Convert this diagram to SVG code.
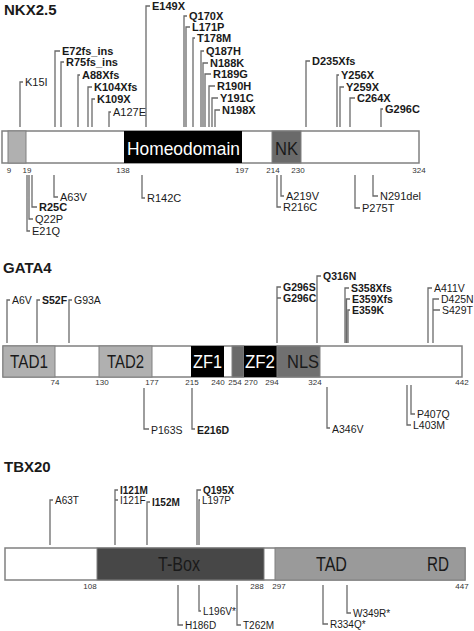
<svg xmlns="http://www.w3.org/2000/svg" width="474" height="631" viewBox="0 0 474 631">
<style>
text{font-family:"Liberation Sans",Arial,Helvetica,sans-serif;fill:#1a1a1a}
.t{font-size:15px;font-weight:bold}
.n1{font-size:11px}
.n2{font-size:10.5px}
.n3{font-size:10px}
.b{font-weight:bold}
.num{font-size:8px;text-anchor:middle;fill:#333}
.dl{font-size:19px}
.dw{fill:#fff}
.bar{fill:#fff;stroke:#808080;stroke-width:1.5}
.dom{stroke:#808080;stroke-width:1}
.ln{fill:none;stroke:#6a6a6a;stroke-width:1.3}
</style>
<rect width="474" height="631" fill="#fff"/>

<g id="connectors">
<!-- NKX2.5 top -->
<path class="ln" d="M20 127V82H23M55 127V51H60M61 127V62H64M78 127V75H80M88 127V87H92M92 127V99H95M109 127V112H111M146 127V6H150M184 127V16H187M186 127V27H190M193 127V38H195M201 127V51H204M203 127V63H208M205 127V74H211M209 127V86H215M212 127V98H218M215 127V110H220M306 127V61H310M337 127V75H339M340 127V87H344M350 127V98H355M381 127V109H383"/>
<!-- NKX2.5 bottom -->
<path class="ln" d="M54 175V197H58M32 175V207H37M29 175V219H33M27 175V231H30M142 175V198H145M281 175V196H284M277 175V207H281M355 175V208H360M373 175V196H378"/>
<!-- GATA4 top -->
<path class="ln" d="M7 343V300H10M37 343V300H40M69 343V300H72M277 343V287H281M277 298H281M317 343V276H321M345 343V288H349M346.5 343V299H350M348 343V310H350M428 343V288H432M433 343V299H439M433 310H440"/>
<!-- GATA4 bottom -->
<path class="ln" d="M144 388V429H149M192 388V429H195M327 387V428H330M411 385V414H415M407 385V425H411"/>
<!-- TBX20 top -->
<path class="ln" d="M50 545V500H53M115 545V490H118M115 500H118M147 545V502H150M197 545V490H201M199 545V500H200"/>
<!-- TBX20 bottom -->
<path class="ln" d="M178 585V625H183M199 585V611H201M237 585V625H241M323 585V624H328M347 585V613H351"/>
</g>

<g id="nkx25">
<text class="t" x="4" y="15">NKX2.5</text>
<g id="nkx25-bar">
<rect class="bar" x="2" y="131" width="417" height="32"/>
<rect class="dom" x="8" y="131" width="18" height="32" fill="#b0b0b0"/>
<rect x="124" y="131" width="118" height="32" fill="#000"/>
<text class="dl dw" x="127" y="155" textLength="113" lengthAdjust="spacingAndGlyphs">Homeodomain</text>
<rect class="dom" x="272" y="131" width="29" height="32" fill="#6a6a6a"/>
<text class="dl" x="275" y="155" textLength="23" lengthAdjust="spacingAndGlyphs">NK</text>
</g>
<g id="nkx25-nums">
<text class="num" x="9" y="173">9</text>
<text class="num" x="27" y="173">19</text>
<text class="num" x="123" y="173">138</text>
<text class="num" x="242" y="173">197</text>
<text class="num" x="273" y="173">214</text>
<text class="num" x="298" y="173">230</text>
<text class="num" x="419" y="173">324</text>
</g>
<g id="nkx25-muts" class="n1">
<text x="25" y="86">K15I</text>
<text class="b" x="62" y="55">E72fs_ins</text>
<text class="b" x="66" y="66">R75fs_ins</text>
<text class="b" x="82" y="79">A88Xfs</text>
<text class="b" x="94" y="91">K104Xfs</text>
<text class="b" x="97" y="103">K109X</text>
<text x="113" y="116">A127E</text>
<text class="b" x="152" y="10">E149X</text>
<text class="b" x="189" y="20">Q170X</text>
<text class="b" x="192" y="31">L171P</text>
<text class="b" x="197" y="42">T178M</text>
<text class="b" x="206" y="55">Q187H</text>
<text class="b" x="210" y="67">N188K</text>
<text class="b" x="213" y="78">R189G</text>
<text class="b" x="217" y="90">R190H</text>
<text class="b" x="220" y="102">Y191C</text>
<text class="b" x="222" y="114">N198X</text>
<text class="b" x="312" y="65">D235Xfs</text>
<text class="b" x="341" y="79">Y256X</text>
<text class="b" x="346" y="91">Y259X</text>
<text class="b" x="357" y="102">C264X</text>
<text class="b" x="385" y="113">G296C</text>
<text x="60" y="201">A63V</text>
<text class="b" x="39" y="211">R25C</text>
<text x="35" y="223">Q22P</text>
<text x="32" y="235">E21Q</text>
<text x="147" y="202">R142C</text>
<text x="286" y="200">A219V</text>
<text x="283" y="211">R216C</text>
<text x="362" y="212">P275T</text>
<text x="380" y="200">N291del</text>
</g>
</g>

<g id="gata4">
<text class="t" x="3" y="273">GATA4</text>
<g id="gata4-bar">
<rect class="bar" x="3" y="346" width="459" height="31"/>
<rect class="dom" x="3" y="346" width="52" height="31" fill="#b0b0b0"/>
<text class="dl" x="10" y="368" style="font-size:18px" textLength="38" lengthAdjust="spacingAndGlyphs">TAD1</text>
<rect class="dom" x="99" y="346" width="53" height="31" fill="#b0b0b0"/>
<text class="dl" x="107" y="368" style="font-size:18px" textLength="37" lengthAdjust="spacingAndGlyphs">TAD2</text>
<rect x="191" y="346" width="33" height="31" fill="#000"/>
<text class="dl dw" x="193" y="368" style="font-size:18px" textLength="29" lengthAdjust="spacingAndGlyphs">ZF1</text>
<rect class="dom" x="232" y="346" width="12" height="31" fill="#6a6a6a"/>
<rect x="244" y="346" width="33" height="31" fill="#000"/>
<text class="dl dw" x="245" y="368" style="font-size:18px" textLength="30" lengthAdjust="spacingAndGlyphs">ZF2</text>
<rect class="dom" x="277" y="346" width="43" height="31" fill="#707070"/>
<text class="dl" x="287" y="368" style="font-size:18px" textLength="32" lengthAdjust="spacingAndGlyphs">NLS</text>
</g>
<g id="gata4-nums">
<text class="num" x="55" y="385">74</text>
<text class="num" x="102" y="385">130</text>
<text class="num" x="152" y="385">177</text>
<text class="num" x="192" y="385">215</text>
<text class="num" x="218" y="385">240</text>
<text class="num" x="235" y="385">254</text>
<text class="num" x="251" y="385">270</text>
<text class="num" x="272" y="385">294</text>
<text class="num" x="315" y="385">324</text>
<text class="num" x="462" y="385">442</text>
</g>
<g id="gata4-muts" class="n2">
<text x="12" y="304">A6V</text>
<text class="b" x="42" y="304">S52F</text>
<text x="74" y="304">G93A</text>
<text class="b" x="283" y="291">G296S</text>
<text class="b" x="283" y="302">G296C</text>
<text class="b" x="323" y="280">Q316N</text>
<text class="b" x="351" y="292">S358Xfs</text>
<text class="b" x="352" y="303">E359Xfs</text>
<text class="b" x="352" y="314">E359K</text>
<text x="434" y="292">A411V</text>
<text x="441" y="303">D425N</text>
<text x="442" y="314">S429T</text>
<text x="151" y="434">P163S</text>
<text class="b" x="197" y="434">E216D</text>
<text x="332" y="433">A346V</text>
<text x="417" y="418">P407Q</text>
<text x="413" y="429">L403M</text>
</g>
</g>

<g id="tbx20">
<text class="t" x="4" y="472">TBX20</text>
<g id="tbx20-bar">
<rect class="bar" x="5" y="548" width="460" height="32"/>
<rect class="dom" x="97" y="548" width="167" height="32" fill="#474747"/>
<text class="dl" x="158" y="571" style="font-size:21px" textLength="42" lengthAdjust="spacingAndGlyphs">T-Box</text>
<rect class="dom" x="275" y="548" width="190" height="32" fill="#9a9a9a"/>
<text class="dl" x="316" y="571" style="font-size:21px" textLength="31" lengthAdjust="spacingAndGlyphs">TAD</text>
<text class="dl" x="427" y="571" style="font-size:21px" textLength="22" lengthAdjust="spacingAndGlyphs">RD</text>
</g>
<g id="tbx20-nums">
<text class="num" x="90" y="589">108</text>
<text class="num" x="257" y="589">288</text>
<text class="num" x="279" y="589">297</text>
<text class="num" x="462" y="589">447</text>
</g>
<g id="tbx20-muts" class="n3">
<text x="55" y="504">A63T</text>
<text class="b" x="120" y="494">I121M</text>
<text x="120" y="504">I121F</text>
<text class="b" x="152" y="506">I152M</text>
<text class="b" x="203" y="494">Q195X</text>
<text x="202" y="504">L197P</text>
<text x="185" y="629">H186D</text>
<text x="203" y="615">L196V*</text>
<text x="243" y="629">T262M</text>
<text x="330" y="628">R334Q*</text>
<text x="353" y="617">W349R*</text>
</g>
</g>
</svg>
